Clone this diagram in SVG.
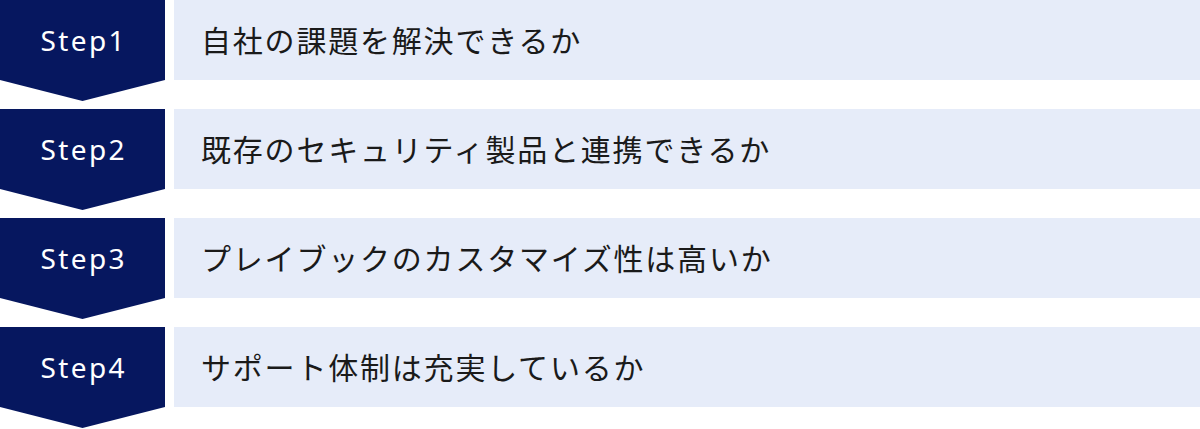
<svg xmlns="http://www.w3.org/2000/svg" width="1200" height="429" viewBox="0 0 1200 429">
<defs>
<style>
.badge{fill:#06175F}
.bar{fill:#E6ECF9}
.step{font-family:"Noto Sans","Liberation Sans",sans-serif;font-size:28px;fill:#FFFFFF;letter-spacing:2.4px;text-anchor:middle}
.label{font-family:"Noto Sans CJK JP","Noto Sans",sans-serif;font-size:30px;fill:#1A1A1A;letter-spacing:1.8px}
</style>
</defs>
<rect width="1200" height="429" fill="#FFFFFF"/>
<g id="step1">
<polygon class="badge" points="0,0 165,0 165,80 82.5,101 0,80"/>
<rect class="bar" x="174" y="0" width="1026" height="80"/>
<text class="step" x="83.7" y="51">Step1</text>
<text class="label" x="201" y="52">自社の課題を解決できるか</text>
</g>
<g id="step2">
<polygon class="badge" points="0,109 165,109 165,189 82.5,210 0,189"/>
<rect class="bar" x="174" y="109" width="1026" height="80"/>
<text class="step" x="83.7" y="160">Step2</text>
<text class="label" x="201" y="161">既存のセキュリティ製品と連携できるか</text>
</g>
<g id="step3">
<polygon class="badge" points="0,218 165,218 165,298 82.5,319 0,298"/>
<rect class="bar" x="174" y="218" width="1026" height="80"/>
<text class="step" x="83.7" y="269">Step3</text>
<text class="label" x="201" y="270">プレイブックのカスタマイズ性は高いか</text>
</g>
<g id="step4">
<polygon class="badge" points="0,327 165,327 165,407 82.5,428 0,407"/>
<rect class="bar" x="174" y="327" width="1026" height="80"/>
<text class="step" x="83.7" y="378">Step4</text>
<text class="label" x="201" y="379">サポート体制は充実しているか</text>
</g>
<g id="connectors"/>
</svg>
